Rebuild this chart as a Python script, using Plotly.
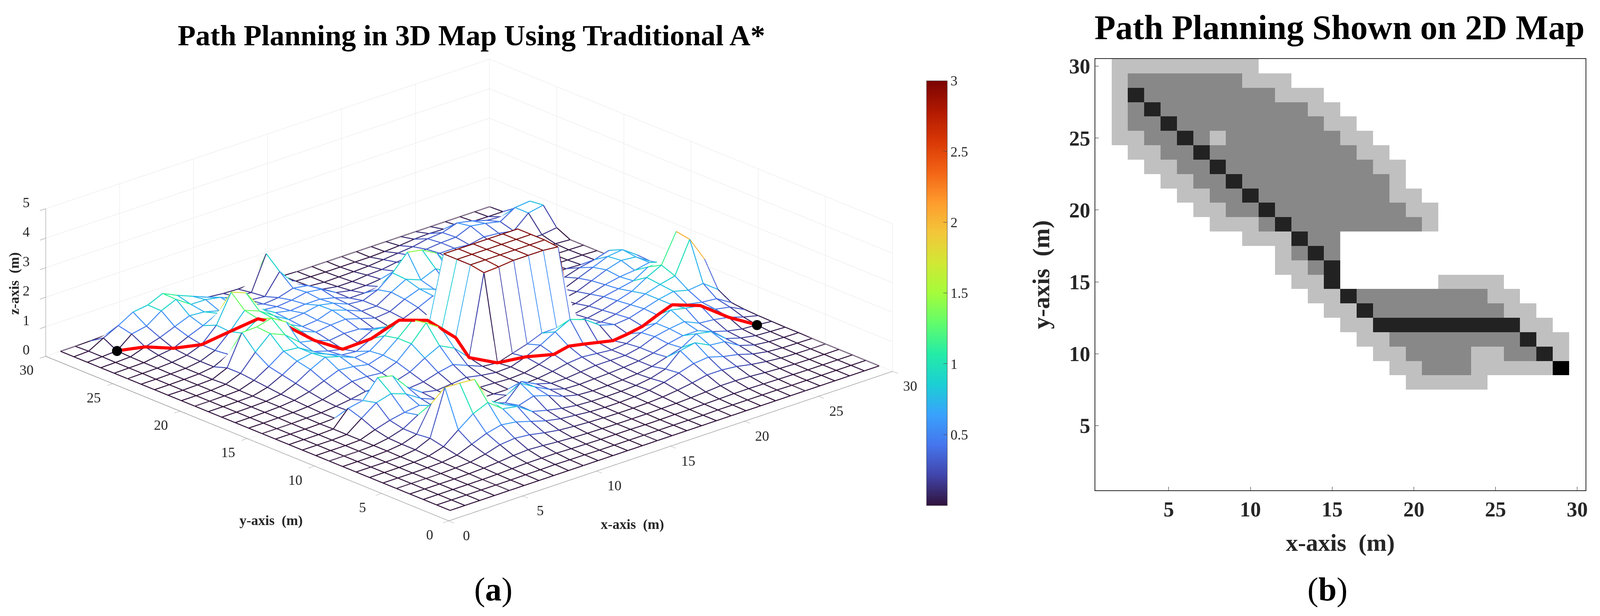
import numpy as np
import plotly.graph_objects as go

W = 4175
H = 1578
SERIF = "Liberation Serif"

z_rows = [
    [0,0,.01,.03,.2,.4,.5,.45,.35,.25,.15,.1,.08,.1,.1,.02,0,0,0,0,0,0,0,0,0,0,0,0,0,0],
    [0,.02,.3,.55,.84,.91,1.13,.9,.7,.5,.3,.18,.15,1.3,.25,.03,.01,0,0,0,0,.02,.05,.1,.12,.1,.05,.03,.02,.02],
    [0,.02,.05,.45,.55,.9,1.12,.78,.77,.68,.45,.25,.2,.88,.3,.05,.01,.02,.03,.05,.1,.15,.2,.3,.34,.5,.4,.25,.2,.34],
    [0,.01,.03,.2,.35,.55,.75,.71,.58,.6,.45,.3,.35,.5,.42,.13,.05,.05,.1,.12,.2,.25,.3,.35,.37,.58,.5,.39,.7,.75],
    [0,.01,.02,.1,.17,.4,.6,.85,.85,.7,.45,.4,.45,.55,.48,.2,.1,.1,.15,.25,.3,.35,.35,.35,.3,.4,.35,.26,.7,.8],
    [0,.01,.02,.05,.12,.31,.8,1.75,1.56,.85,.55,.45,.5,.5,.38,.2,.2,.25,.6,.8,.55,.3,.25,.2,.2,.2,.2,.15,.15,.22],
    [0,0,.01,.03,.1,.3,.77,1.32,1.13,.8,.5,.55,.65,.55,.35,.3,.5,.9,1.43,1.34,1.06,.4,.2,.12,.1,.1,.08,.05,.03,0],
    [0,0,.01,.03,.1,.35,.9,1.22,1.07,.7,.45,.5,.67,.5,.3,.3,.6,.87,.68,.89,.6,.3,.12,.08,.05,.05,.03,.02,.01,0],
    [0,0,.01,.03,.25,1.28,1.3,1.43,1.13,.65,.45,.52,.55,.4,.25,.3,.55,.73,.55,.45,.3,.15,.08,.05,.03,.03,.02,.02,.02,0],
    [0,0,.01,.05,.25,.8,1.26,1.05,.63,.52,.35,.42,.4,.25,.15,.25,.45,.68,.45,.3,.15,.08,.05,.03,.03,.05,.08,.05,.03,0],
    [0,0,.01,.03,.2,.5,.85,.8,.5,.35,.24,.3,.55,.5,.3,.2,.25,.35,.25,.15,.08,.05,.03,.03,.05,.15,.3,.4,.55,.22],
    [0,0,.01,.02,.15,.4,.7,.8,.6,.4,.35,.61,.85,.75,.5,.3,.2,.2,.15,.08,.05,.03,.03,.05,.1,.3,.5,.7,.76,.41],
    [0,0,.01,.03,.1,.3,.6,.85,.7,.5,.55,.9,1.26,1.1,.75,3,3,3,3,3,3,.1,.05,.1,.2,.4,.6,.75,.7,.38],
    [0,0,.01,.03,.08,.2,.4,.6,.55,.45,.6,1.0,1.45,1.27,.85,3,3,3,3,3,3,.15,.1,.15,.3,.45,.55,.6,.7,.5],
    [0,0,.01,.02,.05,.12,.25,.4,.4,.35,.55,1.0,1.54,1.2,.7,3,3,3,3,3,3,.2,.15,.25,.4,.5,.6,.9,.9,.6],
    [0,0,0,.02,.03,.08,.15,.25,.25,.25,.4,.7,.95,.7,.21,2.92,2.95,3,3,3,2.95,.25,.2,.3,.45,.6,.9,1.15,2.12,.9],
    [0,0,0,.01,.03,.1,.3,.45,.35,.2,.25,.4,.5,.3,.1,.05,.2,.35,.55,.55,.4,.3,.25,.35,.5,.7,.85,.97,2.04,1.2],
    [0,0,0,.02,.55,.65,1.26,1.15,.6,.25,.15,.2,.25,.15,.08,.1,.27,.5,.78,1.03,.86,.5,.35,.4,.55,.7,.8,.67,.73,.36],
    [0,0,0,.02,.4,.76,.9,.72,.4,.2,.12,.1,.1,.08,.05,.08,.2,.37,.48,.38,.27,.16,.22,.31,.52,.7,.55,.45,.4,.1],
    [0,0,0,.02,.2,.35,.45,.52,.3,.15,.08,.06,.06,.05,.05,.08,.15,.25,.3,.25,.2,.25,.45,.6,.88,.77,.69,.4,.3,.05],
    [0,0,0,.02,.1,.25,.55,.7,.6,.35,.2,.12,.2,.5,.25,.1,.1,.15,.2,.2,.2,.3,.5,.6,.67,.45,.4,.31,.15,.03],
    [0,0,0,.02,.08,.25,1.12,.82,.9,.6,.4,.3,.8,.5,.25,.1,.08,.1,.12,.15,.2,.3,.45,.55,.55,.35,.2,.1,.07,.02],
    [0,0,0,.01,.08,.3,1.85,1.83,1.79,.9,.6,.4,.55,.4,.2,.08,.05,.06,.08,.12,.2,.35,.5,.8,.7,.3,.15,.06,.03,.01],
    [0,0,0,.01,.05,.2,.6,.98,1.19,.81,.72,.38,.25,.15,.08,.05,.04,.05,.08,.15,.3,.75,.85,.6,.55,.25,.1,.04,.02,.01],
    [0,0,0,.01,.03,.1,.3,.5,.62,.55,.4,.25,.15,.1,.05,.03,.03,.05,.1,.2,.35,.5,.55,.4,.3,.15,.06,.02,.01,0],
    [0,0,0,0,.02,.05,.15,.3,.35,.3,.2,.12,.08,.05,.03,.02,.02,.03,.06,.12,.2,.3,.3,.25,.15,.08,.03,.01,0,0],
    [0,0,0,0,.01,.03,.07,.12,.15,.12,.08,.05,.03,.02,.01,.01,.01,.02,.03,.05,.08,.12,.12,.1,.06,.03,.01,0,0,0],
    [0,0,0,0,0,.01,.03,.05,.05,.05,.03,.02,.01,.01,.01,0,0,.01,.01,.02,.03,.04,.04,.03,.02,.01,0,0,0,0],
    [0,0,0,0,0,0,.01,.01,.02,.01,.01,0,0,0,0,0,0,0,0,.01,.01,.01,.01,.01,0,0,0,0,0,0],
    [0,0,0,0,0,0,0,0,0,0,0,0,0,0,0,0,0,0,0,0,0,0,0,0,0,0,0,0,0,0],
]

# A* path in grid cells, and its height along the way
path_x = [3,4,5,6,7,8,9,10,11,12,13,14,15,15,16,17,18,19,20,21,22,23,24,25,26,27,28,29]
path_y = [28,27,26,25,24,23,22,21,20,19,18,17,16,15,14,13,12,12,12,12,12,12,12,12,12,11,10,9]
path_z = [.05,.2,.17,.31,.77,1.22,1.0,.52,.24,.61,1.26,1.27,.7,.21,.05,.27,.37,.48,.38,.27,.16,.22,.31,.52,.7,.69,.31,.07]
# the one path point that stays inside the surface, the part the hill in front of it hides
path_buried = 6

# 2D map, per y: (kind, first x, last x). 1 open list, 2 closed list, 3 path, 4 goal
map_runs = {
    30: [(1, 2, 10)],
    29: [(1, 2, 2), (2, 3, 9), (1, 10, 12)],
    28: [(1, 2, 2), (3, 3, 3), (2, 4, 11), (1, 12, 14)],
    27: [(1, 2, 2), (2, 3, 3), (3, 4, 4), (2, 5, 13), (1, 14, 15)],
    26: [(1, 2, 2), (2, 3, 4), (3, 5, 5), (2, 6, 14), (1, 15, 16)],
    25: [(1, 2, 3), (2, 4, 5), (3, 6, 6), (2, 7, 7), (1, 8, 8), (2, 9, 15), (1, 16, 17)],
    24: [(1, 3, 4), (2, 5, 6), (3, 7, 7), (2, 8, 16), (1, 17, 18)],
    23: [(1, 4, 5), (2, 6, 7), (3, 8, 8), (2, 9, 17), (1, 18, 19)],
    22: [(1, 5, 6), (2, 7, 8), (3, 9, 9), (2, 10, 18), (1, 19, 19)],
    21: [(1, 6, 7), (2, 8, 9), (3, 10, 10), (2, 11, 18), (1, 19, 20)],
    20: [(1, 7, 8), (2, 9, 10), (3, 11, 11), (2, 12, 19), (1, 20, 21)],
    19: [(1, 8, 10), (2, 11, 11), (3, 12, 12), (2, 13, 20), (1, 21, 21)],
    18: [(1, 10, 12), (3, 13, 13), (2, 14, 15)],
    17: [(1, 12, 12), (2, 13, 13), (3, 14, 14), (2, 15, 15)],
    16: [(1, 12, 13), (2, 14, 14), (3, 15, 15)],
    15: [(1, 13, 14), (3, 15, 15), (1, 22, 25)],
    14: [(1, 14, 15), (3, 16, 16), (2, 17, 24), (1, 25, 26)],
    13: [(1, 15, 16), (3, 17, 17), (2, 18, 25), (1, 26, 27)],
    12: [(1, 16, 17), (3, 18, 26), (1, 27, 28)],
    11: [(1, 17, 18), (2, 19, 26), (3, 27, 27), (1, 28, 29)],
    10: [(1, 18, 19), (2, 20, 23), (1, 24, 25), (2, 26, 27), (3, 28, 28), (1, 29, 29)],
    9: [(1, 19, 20), (2, 21, 23), (1, 24, 28), (4, 29, 29)],
    8: [(1, 20, 24)],
}
map_colors = ["#ffffff", "#c0c0c0", "#888888", "#222222", "#000000"]
axis_ticks = [0, 5, 10, 15, 20, 25, 30]
map_ticks = [5, 10, 15, 20, 25, 30]
z_ticks = [0, 1, 2, 3, 4, 5]
bar_ticks = [0.5, 1, 1.5, 2, 2.5, 3]
bar_labels = ["0.5", "1", "1.5", "2", "2.5", "3"]

# view direction; an orthographic scene takes its scale from aspectratio, not from this length
EYE = dict(x=-3.744, y=-4.122, z=2.226)
view_dir = dict(x=-0.624, y=-0.687, z=0.371)


def px(x):
    return x / W


def py(y):
    return 1 - y / H


def nudge(values, axis, span, amount):
    # slide along the line of sight: same spot on screen, but in front of the white sheet
    return [v + view_dir[axis] * a * span for v, a in zip(values, amount)]


grid = np.array(z_rows, dtype=float)[::-1]
xs = np.arange(1, 31)
ys = np.arange(1, 31)

fig = go.Figure()

# white sheet that hides the mesh lines behind the hills
fig.add_trace(go.Surface(
    x=xs, y=ys, z=grid - 0.02,
    colorscale=[[0, "#ffffff"], [1, "#ffffff"]], showscale=False,
    lighting=dict(ambient=1, diffuse=0, specular=0, fresnel=0),
    hoverinfo="skip", scene="scene",
))

# mesh edges, each one flat in the colour of its lower index vertex
line_x, line_y, line_z, line_c = [], [], [], []
for j in range(30):
    for i in range(30):
        if i < 29:
            line_x += [xs[i], xs[i + 1], None]
            line_y += [ys[j], ys[j], None]
            line_z += [grid[j, i], grid[j, i + 1], None]
            line_c += [grid[j, i], grid[j, i], 0]
        if j < 29:
            line_x += [xs[i], xs[i], None]
            line_y += [ys[j], ys[j + 1], None]
            line_z += [grid[j, i], grid[j + 1, i], None]
            line_c += [grid[j, i], grid[j, i], 0]

fig.add_trace(go.Scatter3d(
    x=line_x, y=line_y, z=line_z, mode="lines",
    line=dict(color=line_c, colorscale="Turbo", cmin=0, cmax=3, width=5, showscale=True,
              colorbar=dict(
                  x=px(2421), xanchor="left", y=py(197), yanchor="top", xpad=0, ypad=0,
                  len=1096 / H, lenmode="fraction", thickness=53, thicknessmode="pixels",
                  tickvals=bar_ticks, ticktext=bar_labels, ticks="inside", ticklen=10,
                  tickcolor="#444444", outlinecolor="#444444", outlinewidth=1,
                  tickfont=dict(family=SERIF, size=36, color="#262626"),
              )),
    hoverinfo="skip", showlegend=False, scene="scene",
))

path_amount = [0.03] * len(path_x)
path_amount[path_buried] = 0
fig.add_trace(go.Scatter3d(
    x=nudge(path_x, "x", 30, path_amount),
    y=nudge(path_y, "y", 30, path_amount),
    z=nudge(path_z, "z", 5 / 0.265, path_amount),
    mode="lines",
    line=dict(color="#ff0000", width=16), hoverinfo="skip", showlegend=False, scene="scene",
))

# end dots
end_amount = [0.04, 0.04]
fig.add_trace(go.Scatter3d(
    x=nudge([path_x[0], path_x[-1]], "x", 30, end_amount),
    y=nudge([path_y[0], path_y[-1]], "y", 30, end_amount),
    z=nudge([path_z[0], path_z[-1]], "z", 5 / 0.265, end_amount),
    mode="markers", marker=dict(color="#000000", size=15),
    hoverinfo="skip", showlegend=False, scene="scene",
))

# 2D map
cells = np.zeros((30, 30), dtype=int)
for row, runs in map_runs.items():
    for value, start, stop in runs:
        cells[row - 1, start - 1:stop] = value
scale = []
for k in range(5):
    scale += [[k / 5, map_colors[k]], [(k + 1) / 5, map_colors[k]]]
fig.add_trace(go.Heatmap(
    x=xs, y=ys, z=cells, zmin=0, zmax=5, colorscale=scale, showscale=False,
    hoverinfo="skip", xaxis="x", yaxis="y",
))

axis3d = dict(
    showbackground=False, showgrid=True, gridcolor="#e6e6e6", gridwidth=2,
    showline=True, linecolor="#8c8c8c", linewidth=3, zeroline=False, showspikes=False,
    ticks="outside", ticklen=20, tickcolor="#8c8c8c", tickwidth=2,
    showticklabels=False, title=dict(text=""),
)


def tick_note(x, y, z, text, dx, dy):
    return dict(x=x, y=y, z=z, text=text, showarrow=False, xshift=dx, yshift=-dy,
                xanchor="center", yanchor="middle",
                font=dict(family=SERIF, size=36, color="#262626"))


tick_notes = []
tick_notes += [tick_note(t, 0, 0, str(t), 45, 38) for t in axis_ticks]
tick_notes += [tick_note(0, t, 0, str(t), -49, 36) for t in axis_ticks]
tick_notes += [tick_note(0, 30, t, str(t), -50, -16) for t in z_ticks]

fig.update_layout(
    margin=dict(l=0, r=0, t=0, b=0), paper_bgcolor="white", plot_bgcolor="white",
    showlegend=False,
    scene=dict(
        domain=dict(x=[0, 2452 / W], y=[1 - 1474 / H, 1]),
        aspectmode="manual", aspectratio=dict(x=2.097, y=2.097, z=0.556),
        xaxis=dict(axis3d, range=[0, 30], tickvals=axis_ticks),
        yaxis=dict(axis3d, range=[0, 30], tickvals=axis_ticks),
        zaxis=dict(axis3d, range=[0, 5], tickvals=z_ticks),
        camera=dict(projection=dict(type="orthographic"), eye=EYE,
                    center=dict(x=0, y=0, z=0), up=dict(x=0, y=0, z=1)),
        annotations=tick_notes,
    ),
    xaxis=dict(domain=[px(2862), px(4143)], range=[0.5, 30.5], tickvals=map_ticks, ticks="inside", ticklen=9,
               showline=True, linecolor="#262626", linewidth=2, mirror=True, showgrid=False, zeroline=False,
               tickcolor="#262626", tickfont=dict(family=SERIF, size=54, color="#262626", weight="bold"),
               title=dict(text="x-axis  (m)", font=dict(family=SERIF, size=62, color="#262626", weight="bold"), standoff=34)),
    yaxis=dict(domain=[py(1254), py(141)], range=[0.5, 30.5], tickvals=map_ticks, ticks="inside", ticklen=9,
               showline=True, linecolor="#262626", linewidth=2, mirror=True, showgrid=False, zeroline=False,
               tickcolor="#262626", tickfont=dict(family=SERIF, size=54, color="#262626", weight="bold"),
               title=dict(text="y-axis  (m)", font=dict(family=SERIF, size=62, color="#262626", weight="bold"), standoff=30)),
)

notes = [
    (1232, 80, "<b>Path Planning in 3D Map Using Traditional A*</b>", 75, 0, "#000000"),
    (3500, 60, "<b>Path Planning Shown on 2D Map</b>", 88, 0, "#000000"),
    (1289, 1510, "(<b>a</b>)", 84, 0, "#000000"),
    (3469, 1510, "(<b>b</b>)", 84, 0, "#000000"),
    (708, 1331, "<b>y-axis  (m)</b>", 36, 0, "#262626"),
    (1653, 1341, "<b>x-axis  (m)</b>", 36, 0, "#262626"),
    (37, 720, "<b>z-axis  (m)</b>", 36, -90, "#262626"),
]
for x, y, text, size, angle, color in notes:
    fig.add_annotation(x=px(x), y=py(y), xref="paper", yref="paper", text=text, showarrow=False,
                       xanchor="center", yanchor="middle", textangle=angle,
                       font=dict(family=SERIF, size=size, color=color))

# no page margin or scrollbar, so the figure fills the window
fit_page = """
document.body.style.margin = '0';
document.documentElement.style.overflow = 'hidden';
Plotly.Plots.resize(document.getElementById('{plot_id}'));
"""
fig.write_html("out.html", post_script=fit_page, config=dict(displayModeBar=False))
